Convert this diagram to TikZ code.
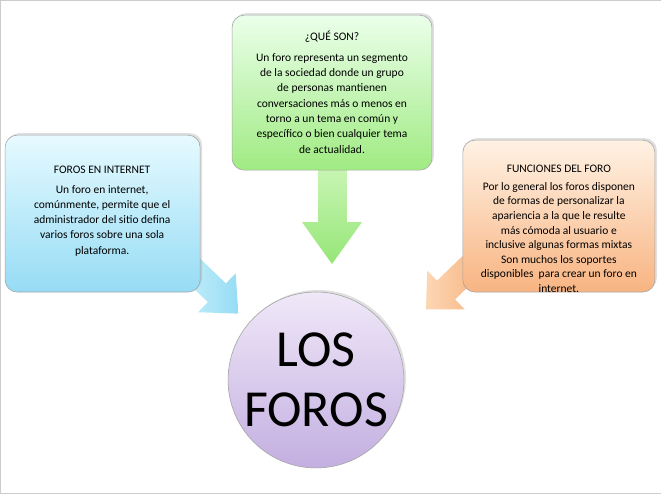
\documentclass[tikz,border=0pt]{standalone}
\usepackage{fontspec}
\setmainfont{Carlito}
\usetikzlibrary{shadows}
\begin{document}
\begin{tikzpicture}[x=1pt,y=-1pt,
  box/.style={draw=gray!70,rounded corners=12pt,line width=0.6pt,drop shadow={opacity=0.25,shadow xshift=2pt,shadow yshift=2pt}},
  txt/.style={align=center,font=\fontsize{11.5}{15.3}\selectfont,inner sep=0pt},
  blockarrow/.style={draw=none}]
\path[use as bounding box,draw=gray!40,fill=white] (0,0) rectangle (661,493);
% arrows
\path[blockarrow,top color={rgb,255:red,200;green,245;blue,180},bottom color={rgb,255:red,150;green,230;blue,120}]
  (318,168) -- (347,168) -- (347,222) -- (362,222) -- (332,264) -- (302,222) -- (318,222) -- cycle;
\begin{scope}[shift={(188,265)},rotate=-44]
\path[blockarrow,left color={rgb,255:red,200;green,240;blue,250},right color={rgb,255:red,150;green,220;blue,245}]
  (0,-13) -- (40,-13) -- (40,-27) -- (70,0) -- (40,27) -- (40,13) -- (0,13) -- cycle;
\end{scope}
\begin{scope}[shift={(472,265)},rotate=-136]
\path[blockarrow,left color={rgb,255:red,252;green,215;blue,180},right color={rgb,255:red,248;green,180;blue,130}]
  (0,-13) -- (36,-13) -- (36,-27) -- (64,0) -- (36,27) -- (36,13) -- (0,13) -- cycle;
\end{scope}
% top box
\path[box,top color=green!8!white,bottom color={rgb,255:red,160;green,235;blue,130}] (232,15) rectangle (432,170);
\node[txt,anchor=north] (q) at (332,31) {¿QUÉ SON?\\[5pt]Un foro representa un segmento\\de la sociedad donde un grupo\\de personas mantienen\\conversaciones más o menos en\\torno a un tema en común y\\específico o bien cualquier tema\\de actualidad.};
% left box
\path[box,top color={rgb,255:red,230;green,250;blue,255},bottom color={rgb,255:red,150;green,220;blue,245}] (5,135) rectangle (200,292);
\node[txt,anchor=north] (f) at (102,166) {FOROS EN INTERNET\\[4pt]Un foro en internet,\\comúnmente, permite que el\\administrador del sitio defina\\varios foros sobre una sola\\plataforma.};
% right box
\path[box,top color={rgb,255:red,255;green,242;blue,228},bottom color={rgb,255:red,248;green,180;blue,130}] (463,140) rectangle (655,292);
\node[txt,anchor=north,font=\fontsize{11.5}{14.6}\selectfont] (fn) at (559,165) {FUNCIONES DEL FORO\\[3pt]Por lo general los foros disponen\\de formas de personalizar la\\apariencia a la que le resulte\\más cómoda al usuario e\\inclusive algunas formas mixtas\\Son muchos los soportes\\disponibles\ \ para crear un foro en\\internet.};
% circle
\path[draw=gray!70,line width=0.6pt,top color={rgb,255:red,240;green,232;blue,248},bottom color={rgb,255:red,195;green,175;blue,225},drop shadow={opacity=0.25,shadow xshift=2pt,shadow yshift=2pt}] (316,380) circle (88);
\node[txt,font=\fontsize{52}{60}\selectfont] (c) at (316,380) {LOS\\FOROS};
\end{tikzpicture}
\end{document}
